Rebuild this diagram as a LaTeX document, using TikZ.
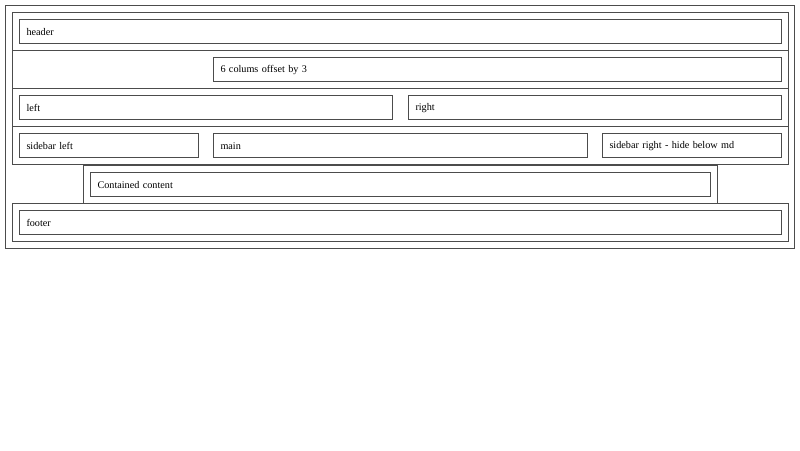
\documentclass[tikz,border=0pt]{standalone}
\usepackage{fontspec}
\setmainfont[WordSpace=0.75]{Liberation Serif}
\definecolor{frame}{gray}{0.3}

\begin{document}
\begin{tikzpicture}[x=1pt,y=-1pt,
    row/.style={draw=frame, line width=1pt},
    cell/.style={draw=frame, line width=1pt, anchor=north west, minimum height=24pt,
        inner xsep=7pt, inner ysep=0pt, text width=#1, align=left,
        execute at begin node={\rule[-0.5pt]{0pt}{9pt}},
        font=\fontsize{10.2}{12}\selectfont}]
    \useasboundingbox (0,0) rectangle (800,450);
    % page and rows
    \draw[row] (5,5) rectangle (794,248);
    \draw[row] (12,12) rectangle (788,50);
    \draw[row] (12,50) rectangle (788,88);
    \draw[row] (12,88) rectangle (788,126);
    \draw[row] (12,126) rectangle (788,164);
    \draw[row] (83,165) rectangle (717,203);
    \draw[row] (12,203) rectangle (788,241);
    % columns
    \node[cell=748pt] (header) at (19,19) {header};
    \node[cell=554pt] (offset) at (213,57) {6 colums offset by 3};
    \node[cell=359pt] (left) at (19,95) {left};
    \node[cell=359pt] (right) at (408,95) {right};
    \node[cell=165pt] (sidebarleft) at (19,133) {sidebar left};
    \node[cell=360pt] (main) at (213,133) {main};
    \node[cell=165pt] (sidebarright) at (602,133) {sidebar right - hide below md};
    \node[cell=606pt] (contained) at (90,172) {Contained content};
    \node[cell=748pt] (footer) at (19,210) {footer};
\end{tikzpicture}
\end{document}
